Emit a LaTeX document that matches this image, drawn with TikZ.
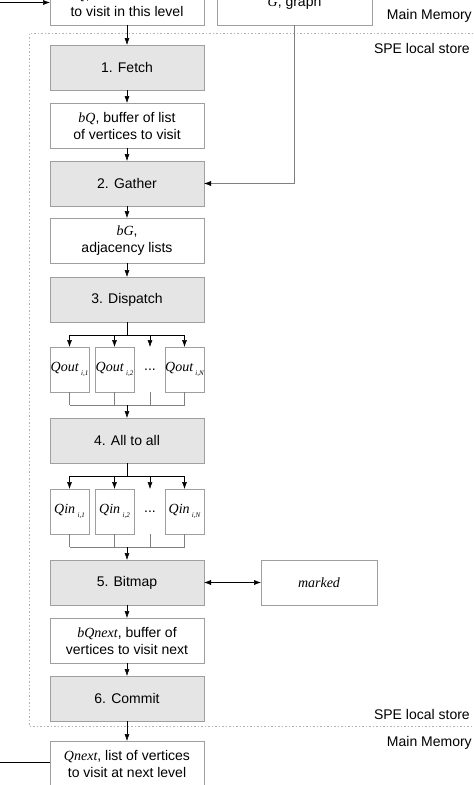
\documentclass[tikz,border=0pt]{standalone}
\usepackage{fontspec}
\setmainfont{Liberation Sans}
\newfontfamily\vf{Liberation Serif}
\usetikzlibrary{arrows.meta,positioning}
\tikzstyle{arrow} = [-{Latex[length=7pt,width=5pt,color=black]}]
\tikzset{buffer/.style={rectangle,draw=gray!75,minimum width=154pt,minimum height=45pt,inner sep=2pt,outer sep=0pt,align=center,font=\fontsize{14}{17}\selectfont},
  stage/.style={buffer,fill=gray!20},
  queue/.style={buffer,minimum width=39pt,inner sep=0pt},
  region/.style={draw=gray!60,dash pattern=on 1.5pt off 2pt},
  memlabel/.style={anchor=east,inner sep=0pt,font=\fontsize{14}{17}\selectfont}}
\newcommand{\vname}[1]{{\vf\itshape #1}}
\newcommand{\qname}[2]{\vname{#1}\,\raisebox{-4pt}{\fontsize{7}{7}\selectfont\vname{#2}}}

\begin{document}
\begin{tikzpicture}[x=1pt,y=-1pt,line width=0.5pt]
    \useasboundingbox (0,0) rectangle (474,785);
    \clip (0,0) rectangle (474,785);

    % local store region
    \draw [region] (480,33) -- (29,33) -- (29,726) -- (480,726);

    \node [buffer] (levelq) at (127,2.5) {\vname{Q}, list of vertices\\to visit in this level};
    \node [buffer, right = 13pt of levelq, minimum width = 155pt] (graph) {\vname{G}, graph};
    \node [stage, below = 20pt of levelq] (fetch) {1. Fetch};
    \node [buffer, below = 13pt of fetch] (bq) {\vname{bQ}, buffer of list\\of vertices to visit};
    \node [stage, below = 13pt of bq] (gather) {2. Gather};
    \node [buffer, below = 12pt of gather] (bg) {\vname{bG},\\adjacency lists};
    \node [stage, below = 14pt of bg] (dispatch) {3. Dispatch};

    \node [queue, below right = 25pt and 0pt of dispatch.south west] (qout1) {\qname{Qout}{i,1}};
    \node [queue, right = 6pt of qout1] (qout2) {\qname{Qout}{i,2}};
    \node [queue, below left = 25pt and 0pt of dispatch.south east] (qoutN) {\qname{Qout}{i,N}};
    \node [queue, draw = none, right = 0pt of qout2, minimum width = 32pt] (qoutdots) {...};

    \node [stage, below = 96pt of dispatch] (alltoall) {4. All to all};

    \node [queue, below right = 26pt and 0pt of alltoall.south west] (qin1) {\qname{Qin}{i,1}};
    \node [queue, right = 6pt of qin1] (qin2) {\qname{Qin}{i,2}};
    \node [queue, below left = 26pt and 0pt of alltoall.south east] (qinN) {\qname{Qin}{i,N}};
    \node [queue, draw = none, right = 0pt of qin2, minimum width = 32pt] (qindots) {...};

    \node [stage, below = 97pt of alltoall] (bitmap) {5. Bitmap};
    \node [buffer, right = 57pt of bitmap, minimum width = 116pt] (marked) {\vname{marked}};
    \node [buffer, below = 13pt of bitmap] (bqnext) {\vname{bQnext}, buffer of\\vertices to visit next};
    \node [stage, below = 13pt of bqnext] (commit) {6. Commit};
    \node [buffer, below = 20pt of commit] (qnext) {\vname{Qnext}, list of vertices\\to visit at next level};

    \node [memlabel] (mmtop) at (472,16) {Main Memory};
    \node [memlabel] (spetop) at (470,48) {SPE local store};
    \node [memlabel] (spebottom) at (470,714) {SPE local store};
    \node [memlabel] (mmbottom) at (472,743) {Main Memory};

    % connectors
    \coordinate (prevlevel) at (0,2.5);
    \coordinate (nextlevel) at (0,762);
    \draw [arrow] (prevlevel) -- (prevlevel -| levelq.west);
    \draw (qnext.west |- nextlevel) -- (nextlevel);
    \foreach \a/\b in {levelq/fetch,fetch/bq,bq/gather,gather/bg,bg/dispatch,bitmap/bqnext,bqnext/commit,commit/qnext}
        \draw [arrow] (\a) -- (\b);
    \draw [arrow, draw = gray] (graph) |- (gather);
    \draw [{Latex[length=7pt,width=5pt]}-{Latex[length=7pt,width=5pt]}] (bitmap) -- (marked);

    \coordinate [below = 13pt of dispatch.south] (outsplit);
    \coordinate [above = 13pt of alltoall.north] (outmerge);
    \coordinate [below = 13pt of alltoall.south] (insplit);
    \coordinate [above = 13pt of bitmap.north] (inmerge);
    \foreach \s/\m/\l in {outsplit/outmerge/qout,insplit/inmerge/qin}
        {
        \draw (\s -| \l1) -- (\s -| \l N);
        \draw [draw = gray] (\m -| \l1) -- (\m -| \l N);
        \foreach \k in {1,2,dots,N}
            {
            \draw [arrow] (\s -| \l\k) -- (\l\k.north);
            \draw [draw = gray] (\l\k.south) -- (\m -| \l\k);
            }
        }
    \draw (dispatch) -- (outsplit);
    \draw [arrow] (outmerge) -- (alltoall);
    \draw (alltoall) -- (insplit);
    \draw [arrow] (inmerge) -- (bitmap);
\end{tikzpicture}
\end{document}
